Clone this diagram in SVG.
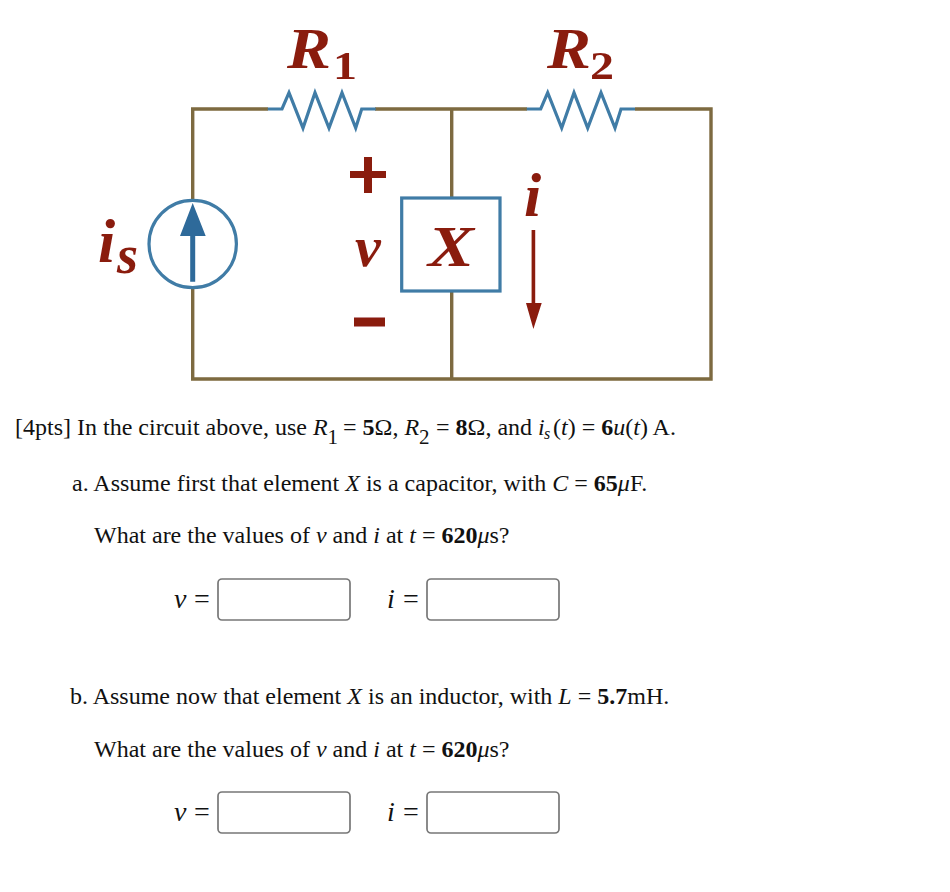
<svg xmlns="http://www.w3.org/2000/svg" width="950" height="892" viewBox="0 0 950 892">
<defs><filter id="soft" x="-5%" y="-5%" width="110%" height="110%"><feGaussianBlur stdDeviation="0.55"/></filter></defs>
<style>
.wire{fill:none;stroke:#7d6a3f;stroke-width:3.4}
.blue{fill:none;stroke:#3f7ba6;stroke-width:3.2}
.red{fill:#8a1a10;font-family:"Liberation Serif",serif;font-weight:bold;font-style:italic}
.redn{fill:#8a1a10;font-family:"Liberation Serif",serif;font-weight:bold}
.t{font-family:"Liberation Serif",serif;font-size:24px;fill:#111}
.sub{font-size:21px}
.ss{font-size:16px;font-style:italic}
.eq{font-size:28px}
.i{font-style:italic}.b{font-weight:bold}
.box{fill:#fff;stroke:#777;stroke-width:1.7}
</style>
<rect width="950" height="892" fill="#fff"/>
<g filter="url(#soft)">
<g id="connectors">
<path class="wire" d="M268 109H192.700V379H711V109H635M527 109H375M451.700 109V198M451.700 291V379"/>
</g>
<g id="R1"><path class="blue" d="M267.700 109H282L289 92.700L303 128L315 92.700L329 128L342 92.700L355.700 128L361.700 109H375.700"/><text class="red" x="287" y="68" font-size="58" textLength="44" lengthAdjust="spacingAndGlyphs">R</text><text class="redn" x="333" y="79" font-size="40" textLength="24" lengthAdjust="spacingAndGlyphs">1</text></g>
<g id="R2"><path class="blue" d="M526.700 109H540.700L547.700 92.700L561.700 128L574 92.700L587.700 128L601 92.700L615 128L621 109H635"/><text class="red" x="547" y="68" font-size="58" textLength="44" lengthAdjust="spacingAndGlyphs">R</text><text class="redn" x="590" y="79" font-size="40" textLength="24" lengthAdjust="spacingAndGlyphs">2</text></g>
<g id="source"><circle class="blue" cx="192.700" cy="244" r="43.700" style="fill:#fff"/><path d="M190.200 236H180L192.700 203L205.700 236H195.200V281.700H190.200Z" fill="#2f6a9a"/><text class="red" x="98" y="262" font-size="62">i</text><text class="red" x="117" y="273" font-size="54">s</text></g>
<g id="X"><rect class="blue" x="401.700" y="198" width="98.300" height="93" style="fill:#fff"/><text class="red" x="428" y="266" font-size="58" textLength="46" lengthAdjust="spacingAndGlyphs">X</text></g>
<g id="v"><path d="M350 171H386V178H350ZM364 157H372V193H364Z" fill="#8a1a10"/><text class="red" x="355" y="266" font-size="58">v</text><rect x="354" y="317.500" width="31" height="9" fill="#8a1a10"/></g>
<g id="i"><text class="red" x="524" y="216" font-size="62">i</text><path d="M531.600 230H535.200V303H541.700L533.400 329L526 303H531.600Z" fill="#8a1a10"/></g>
</g>
<g id="question">
<text class="t" x="15" y="435">[4pts] In the circuit above, use <tspan class="i">R</tspan></text>
<text class="t sub" x="327.500" y="444">1</text>
<text class="t" x="343" y="435">= <tspan class="b">5</tspan>Ω, <tspan class="i">R</tspan></text>
<text class="t sub" x="419" y="444">2</text>
<text class="t" x="436" y="435">= <tspan class="b">8</tspan>Ω, and <tspan class="i">i</tspan></text>
<text class="t ss" x="544" y="439">s</text>
<text class="t" x="553" y="435">(<tspan class="i">t</tspan>) = <tspan class="b">6</tspan><tspan class="i">u</tspan>(<tspan class="i">t</tspan>) A.</text>
<text class="t" x="72" y="491">a. Assume first that element <tspan class="i">X</tspan> is a capacitor, with <tspan class="i">C</tspan> = <tspan class="b">65</tspan><tspan class="i">μ</tspan>F.</text>
<text class="t" x="94" y="543">What are the values of <tspan class="i">v</tspan> and <tspan class="i">i</tspan> at <tspan class="i">t</tspan> = <tspan class="b">620</tspan><tspan class="i">μ</tspan>s?</text>
<text class="t" x="70" y="704">b. Assume now that element <tspan class="i">X</tspan> is an inductor, with <tspan class="i">L</tspan> = <tspan class="b">5.7</tspan>mH.</text>
<text class="t" x="94" y="757">What are the values of <tspan class="i">v</tspan> and <tspan class="i">i</tspan> at <tspan class="i">t</tspan> = <tspan class="b">620</tspan><tspan class="i">μ</tspan>s?</text>
</g>
<g id="answers">
<text class="t eq i" x="174" y="607.500">v</text><text class="t eq" x="194" y="607.500">=</text><rect class="box" x="218" y="579" width="132" height="41" rx="4"/>
<text class="t eq i" x="387" y="607.500">i</text><text class="t eq" x="403" y="607.500">=</text><rect class="box" x="427" y="579" width="132" height="41" rx="4"/>
<text class="t eq i" x="174" y="820.500">v</text><text class="t eq" x="194" y="820.500">=</text><rect class="box" x="218" y="792" width="132" height="41" rx="4"/>
<text class="t eq i" x="387" y="820.500">i</text><text class="t eq" x="403" y="820.500">=</text><rect class="box" x="427" y="792" width="132" height="41" rx="4"/>
</g>
</svg>
